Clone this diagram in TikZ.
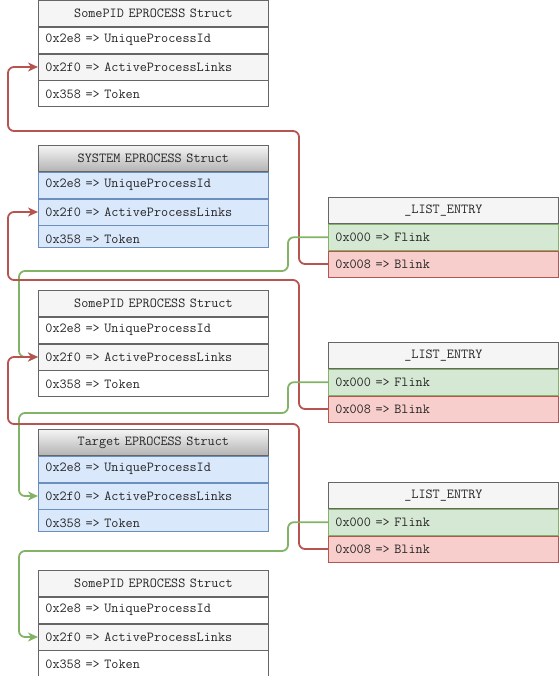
\documentclass[tikz,border=0pt]{standalone}
\usepackage{tikz}
\usetikzlibrary{arrows.meta, calc}
\definecolor{bordergray}{HTML}{666666}
\definecolor{headgray}{HTML}{F5F5F5}
\definecolor{shadegray}{HTML}{B3B3B3}
\definecolor{bluefill}{HTML}{DAE8FC}
\definecolor{blueline}{HTML}{6C8EBF}
\definecolor{greenfill}{HTML}{D5E8D4}
\definecolor{greenline}{HTML}{82B366}
\definecolor{redfill}{HTML}{F8CECC}
\definecolor{redline}{HTML}{B85450}

\begin{document}
\begin{tikzpicture}[x=1pt, y=-1pt]
\tikzset{every node/.style={rectangle, draw=bordergray, line width=0.8pt, anchor=north west, minimum width=230pt, minimum height=26pt, inner xsep=7pt, text width=216pt, font=\ttfamily\fontsize{13.8}{15}\selectfont, text=black!85},
  head/.style={align=center, fill=headgray},
  shadehead/.style={align=center, top color=headgray, bottom color=shadegray},
  field/.style={align=left},
  greyfield/.style={align=left, fill=headgray},
  bluefield/.style={align=left, fill=bluefill, draw=blueline},
  cutfield/.style={bluefield, minimum height=22pt, text height=14pt, text depth=0pt},
  flinkfield/.style={align=left, fill=greenfill, draw=greenline},
  blinkfield/.style={align=left, fill=redfill, draw=redline},
  link/.style={line width=1.8pt, rounded corners=6pt, -{Stealth[length=10pt, width=9pt, inset=3pt]}},
  flink/.style={link, draw=greenline},
  blink/.style={link, draw=redline}}
\useasboundingbox (0,0) rectangle (559,676);

% EPROCESS structs
\node[head] (S1h) at (38,0) {SomePID EPROCESS Struct};
\node[field] (S1u) at (S1h.south west) {0x2e8 => UniqueProcessId};
\node[greyfield] (S1a) at (S1u.south west) {0x2f0 => ActiveProcessLinks};
\node[field] (S1t) at (S1a.south west) {0x358 => Token};

\node[shadehead] (S2h) at (38,145) {SYSTEM EPROCESS Struct};
\node[bluefield] (S2u) at (S2h.south west) {0x2e8 => UniqueProcessId};
\node[bluefield] (S2a) at (S2u.south west) {0x2f0 => ActiveProcessLinks};
\node[cutfield] (S2t) at (S2a.south west) {0x358 => Token};

\node[head] (S3h) at (38,290) {SomePID EPROCESS Struct};
\node[field] (S3u) at (S3h.south west) {0x2e8 => UniqueProcessId};
\node[greyfield] (S3a) at (S3u.south west) {0x2f0 => ActiveProcessLinks};
\node[field] (S3t) at (S3a.south west) {0x358 => Token};

\node[shadehead] (S4h) at (38,429) {Target EPROCESS Struct};
\node[bluefield] (S4u) at (S4h.south west) {0x2e8 => UniqueProcessId};
\node[bluefield] (S4a) at (S4u.south west) {0x2f0 => ActiveProcessLinks};
\node[cutfield] (S4t) at (S4a.south west) {0x358 => Token};

\node[head] (S5h) at (38,570) {SomePID EPROCESS Struct};
\node[field] (S5u) at (S5h.south west) {0x2e8 => UniqueProcessId};
\node[greyfield] (S5a) at (S5u.south west) {0x2f0 => ActiveProcessLinks};
\node[field] (S5t) at (S5a.south west) {0x358 => Token};

% _LIST_ENTRY structs
\node[head] (L1h) at (328,197) {\_LIST\_ENTRY};
\node[flinkfield] (L1f) at (L1h.south west) {0x000 => Flink};
\node[blinkfield] (L1b) at (L1f.south west) {0x008 => Blink};

\node[head] (L2h) at (328,342) {\_LIST\_ENTRY};
\node[flinkfield] (L2f) at (L2h.south west) {0x000 => Flink};
\node[blinkfield] (L2b) at (L2f.south west) {0x008 => Blink};

\node[head] (L3h) at (328,482) {\_LIST\_ENTRY};
\node[flinkfield] (L3f) at (L3h.south west) {0x000 => Flink};
\node[blinkfield] (L3b) at (L3f.south west) {0x008 => Blink};

% Blink / Flink pointers
\draw[blink] (L1b.west) -| (299,131) -| ([xshift=-30pt]S1a.west) -- (S1a.west);
\draw[flink] (L1f.west) -| (288,271) -| ([xshift=-19pt]S3a.west) -- (S3a.west);
\draw[blink] (L2b.west) -| (299,280) -| ([xshift=-30pt]S2a.west) -- (S2a.west);
\draw[flink] (L2f.west) -| (288,413) -| ([xshift=-19pt]S4a.west) -- (S4a.west);
\draw[blink] (L3b.west) -| (299,424) -| ([xshift=-30pt]S3a.west) -- (S3a.west);
\draw[flink] (L3f.west) -| (288,551) -| ([xshift=-19pt]S5a.west) -- (S5a.west);

\end{tikzpicture}
\end{document}
